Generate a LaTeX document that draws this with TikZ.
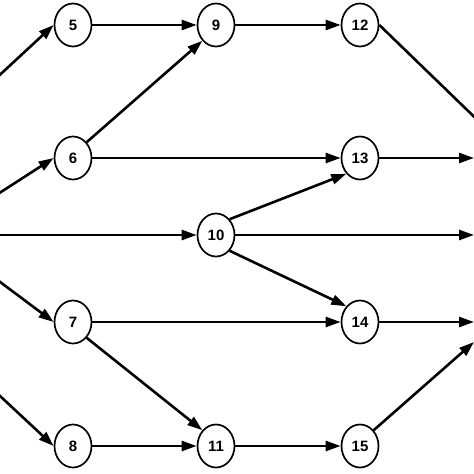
\documentclass[tikz,border=0pt]{standalone}
\usepackage{fontspec}
\setmainfont{Liberation Sans}
\usetikzlibrary{shapes.geometric,arrows.meta}
\begin{document}
\begin{tikzpicture}[x=1pt,y=-1pt,
  nd/.style={ellipse,draw,line width=1.7pt,minimum width=37pt,minimum height=43pt,inner sep=0pt,font=\fontsize{15}{17}\selectfont\bfseries,fill=white},
  ed/.style={line width=2.6pt,-{Triangle[length=15pt,width=10pt]}},
  ln/.style={line width=2.6pt}]
\useasboundingbox (0,0) rectangle (474,474);
\clip (0,0) rectangle (474,474);
\node[nd] (n5) at (73,25) {5};
\node[nd] (n9) at (216,25) {9};
\node[nd] (n12) at (360,25) {12};
\node[nd] (n6) at (73,158) {6};
\node[nd] (n13) at (360,158) {13};
\node[nd] (n10) at (216,235) {10};
\node[nd] (n7) at (73,322) {7};
\node[nd] (n14) at (360,322) {14};
\node[nd] (n8) at (73,446) {8};
\node[nd] (n11) at (216,446) {11};
\node[nd] (n15) at (360,446) {15};
\coordinate (a5) at (-30,102.5);
\coordinate (a6) at (-30,212);
\coordinate (a10) at (-30,235);
\coordinate (a7) at (-30,259.5);
\coordinate (a8) at (-30,368);
\coordinate (b12) at (495,137);
\coordinate (b13) at (474,158);
\coordinate (b10) at (474,235);
\coordinate (b14) at (474,322);
\coordinate (b15) at (474,342);
\draw[ed] (a5) -- (n5.west);
\draw[ed] (a6) -- (n6.west);
\draw[ed] (a10) -- (n10.west);
\draw[ed] (a7) -- (n7.west);
\draw[ed] (a8) -- (n8.west);
\draw[ed] (n5) -- (n9);
\draw[ed] (n6.north east) -- (n9.south west);
\draw[ed] (n9) -- (n12);
\draw[ln] (n12.east) -- (b12);
\draw[ed] (n6) -- (n13);
\draw[ed] (n13) -- (b13);
\draw[ed] (n10) -- (b10);
\draw[ed] (n10.north east) -- (n13.south west);
\draw[ed] (n10.south east) -- (n14.north west);
\draw[ed] (n7) -- (n14);
\draw[ed] (n14) -- (b14);
\draw[ed] (n7.south east) -- (n11.north west);
\draw[ed] (n8) -- (n11);
\draw[ed] (n11) -- (n15);
\draw[ed] (n15.north east) -- (b15);
\end{tikzpicture}
\end{document}
